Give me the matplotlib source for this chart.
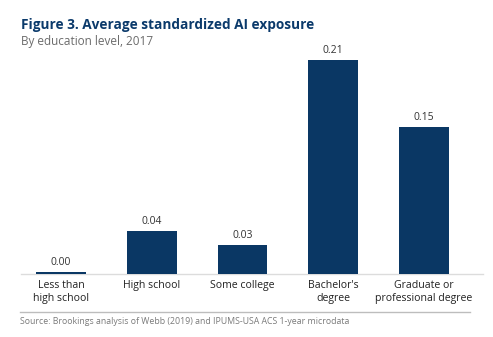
import matplotlib
matplotlib.use("Agg")
import matplotlib.pyplot as plt

categories = ["Less than\nhigh school", "High school", "Some college", "Bachelor's\ndegree", "Graduate or\nprofessional degree"]
values = [0.002, 0.0426, 0.0287, 0.212, 0.146]
labels = ["0.00", "0.04", "0.03", "0.21", "0.15"]

plt.rcParams['font.family'] = ['Open Sans', 'DejaVu Sans']

W, H = 493, 337
fig = plt.figure(figsize=(W/100, H/100), dpi=100)
fig.patch.set_facecolor('white')

ax_left, ax_right = 21/W, 483/W
ax_bottom = 1 - 274/H
ax_top = 1 - 50/H
ax = fig.add_axes([ax_left, ax_bottom, ax_right-ax_left, ax_top-ax_bottom])

x = list(range(len(categories)))
bars = ax.bar(x, values, width=0.55, color='#0a3764', zorder=3)
for xi, v, lab in zip(x, values, labels):
    ax.annotate(lab, (xi, v), xytext=(0, 3), textcoords='offset points',
                ha='center', va='bottom', fontsize=7.5, color='#333333')

ax.set_xlim(-0.44, 4.65)
ax.set_ylim(0, 0.222)
for s in ['top', 'right', 'left']:
    ax.spines[s].set_visible(False)
ax.spines['bottom'].set_color('#dcdcdc')
ax.spines['bottom'].set_linewidth(1.0)
ax.set_yticks([])
ax.set_xticks(x)
ax.set_xticklabels(categories, fontsize=7.6, color='#222222', linespacing=1.25)
ax.tick_params(axis='x', length=0, pad=4)

fig.text(21/W, 1-25/H, "Figure 3. Average standardized AI exposure", fontsize=9.8,
         fontweight='bold', color='#0b3a6b', va='center', ha='left')
fig.text(21/W, 1-41/H, "By education level, 2017", fontsize=8.5, color='#6b6b6b',
         va='center', ha='left')

fig.add_artist(plt.Line2D([20/W, 470/W], [1-311.5/H, 1-311.5/H], color='#bdbdbd', linewidth=1.0))
fig.text(20/W, 1-321/H, "Source: Brookings analysis of Webb (2019) and IPUMS-USA ACS 1-year microdata",
         fontsize=6.3, color='#7a7a7a', va='center', ha='left')

fig.savefig("out.png", dpi=100)
